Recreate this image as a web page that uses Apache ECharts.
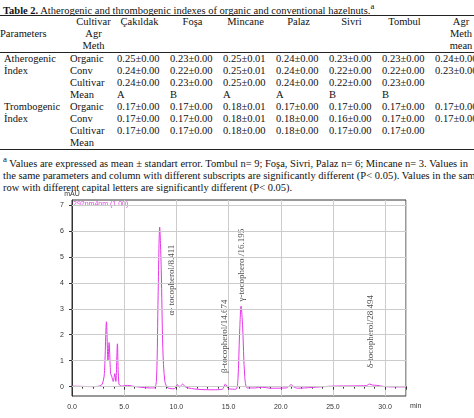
<!DOCTYPE html>
<html><head><meta charset="utf-8">
<script src="https://cdn.jsdelivr.net/npm/echarts@6/dist/echarts.min.js"></script>
<style>
body{margin:0;width:474px;height:418px;overflow:hidden;background:#fff;font-family:"Liberation Serif","DejaVu Serif",serif;color:#111}
#tbl{position:absolute;left:0;top:0;width:490px;font-size:10.5px;line-height:12px;font-family:"Liberation Serif",serif}
#tbl .ttl{position:absolute;left:3px;top:0;white-space:nowrap}
table{position:absolute;left:0;top:15px;border-collapse:collapse;border-top:1.5px solid #222;border-bottom:1.5px solid #222;table-layout:fixed;font-family:"Liberation Serif",serif;font-size:10.5px}
td{padding:0;white-space:nowrap;vertical-align:top;height:12px}
tr.h td{border-bottom:1px solid #222}
.c{text-align:center}
#foot{position:absolute;left:3px;top:153px;width:474px;font-size:10.5px;line-height:12px;white-space:nowrap;font-family:"Liberation Serif",serif}
#chart{position:absolute;left:0;top:186px;width:474px;height:232px}
</style></head><body>
<div id="tbl">
<div class="ttl"><b>Table 2.</b> Atherogenic and thrombogenic indexes of organic and conventional hazelnuts.<sup>a</sup></div>
<table id="t"></table>
</div>
<div id="foot"><sup>a</sup> Values are expressed as mean ± standart error. Tombul n= 9; Foşa, Sivri, Palaz n= 6; Mincane n= 3. Values in<br>the same parameters and column with different subscripts are significantly different (P&lt; 0.05). Values in the same<br>row with different capital letters are significantly different (P&lt; 0.05).</div>
<div id="chart"></div>
<script>
// table data
var cultivars = ['Çakıldak', 'Foşa', 'Mincane', 'Palaz', 'Sivri', 'Tombul'];
var atherogenic = [
    ['Organic', '0.25±0.00', '0.23±0.00', '0.25±0.01', '0.24±0.00', '0.23±0.00', '0.23±0.00', '0.24±0.00'],
    ['Conv', '0.24±0.00', '0.22±0.00', '0.25±0.01', '0.24±0.00', '0.22±0.00', '0.22±0.00', '0.23±0.00'],
    ['Cultivar', '0.24±0.00', '0.23±0.00', '0.25±0.00', '0.24±0.00', '0.22±0.00', '0.23±0.00', ''],
    ['Mean', 'A', 'B', 'A', 'A', 'B', 'B', '']
];
var trombogenic = [
    ['Organic', '0.17±0.00', '0.17±0.00', '0.18±0.01', '0.17±0.00', '0.17±0.00', '0.17±0.00', '0.17±0.00'],
    ['Conv', '0.17±0.00', '0.17±0.00', '0.18±0.01', '0.18±0.00', '0.16±0.00', '0.17±0.00', '0.17±0.00'],
    ['Cultivar', '0.17±0.00', '0.17±0.00', '0.18±0.00', '0.18±0.00', '0.17±0.00', '0.17±0.00', ''],
    ['Mean', '', '', '', '', '', '', '']
];

// chromatogram data [min, mAU]
var trace = [
    [0, 0.02], [1, 0.01], [2, 0.0], [2.6, 0.02], [2.9, 0.1], [3.1, 0.5], [3.3, 2.5], [3.45, 1.0],
    [3.55, 1.7], [3.7, 0.5], [3.8, 0.4], [3.95, 0.2], [4.1, 0.5], [4.2, 0.2], [4.35, 1.65],
    [4.5, 0.1], [4.8, 0.02], [5.3, 0.05], [5.8, 0.02], [6.5, -0.02], [7.5, -0.05], [7.9, -0.05],
    [8.1, 0.3], [8.25, 3.5], [8.4, 6.15], [8.55, 4.5], [8.7, 1.5], [8.9, 0.2], [9.2, -0.05],
    [9.8, -0.08], [10.1, 0.08], [10.3, -0.02], [10.6, 0.1], [10.9, -0.02], [12, -0.1],
    [13.5, -0.12], [14.4, -0.1], [14.7, 0.1], [15.0, -0.08], [15.7, -0.1], [15.9, 0.3],
    [16.05, 2.0], [16.2, 3.1], [16.35, 2.3], [16.55, 0.4], [16.8, -0.05], [17.5, -0.05],
    [18.2, -0.02], [19, -0.06], [20.5, -0.05], [20.8, 0.02], [21.0, 0.08], [21.2, 0.0],
    [21.6, -0.06], [23, -0.03], [25, 0.02], [27, 0.03], [28.2, 0.04], [28.5, 0.1],
    [28.8, 0.06], [29.2, 0.05], [30, 0.0], [31, -0.01], [32, -0.01]
];
var peakNames = ['α- tocopherol/8.411', 'β-tocopherol/14.674', 'γ-tocopherol/16.195', 'δ-tocopherol/28.494'];
var peakAnchors = [[9.55, 2.74], [14.66, 0.53], [16.3, 3.28], [28.65, 0.72]];
var yTicks = [0, 1, 2, 3, 4, 5, 6, 7];

var tb = document.getElementById('t');
var html = '<colgroup><col style="width:70px"><col style="width:47px">' +
    cultivars.map(function () { return '<col style="width:53px">'; }).join('') +
    '<col style="width:52px"></colgroup>';
html += '<tr><td>&nbsp;</td><td class="c">Cultivar</td>' + cultivars.map(function (c) { return '<td class="c" style="padding-right:8px">' + c + '</td>'; }).join('') + '<td class="c">Agr</td></tr>';
html += '<tr><td>Parameters</td><td class="c">Agr</td>' + cultivars.map(function () { return '<td></td>'; }).join('') + '<td class="c">Meth</td></tr>';
html += '<tr class="h"><td></td><td class="c">Meth</td>' + cultivars.map(function () { return '<td></td>'; }).join('') + '<td class="c">mean</td></tr>';
function rows(label1, label2, arr) {
    arr.forEach(function (r, i) {
        var lab = i === 0 ? label1 : (i === 1 ? label2 : '');
        html += '<tr><td style="padding-left:4px">' + lab + '</td><td>' + r[0] + '</td>' +
            r.slice(1).map(function (v) { return '<td>' + v + '</td>'; }).join('') + '</tr>';
    });
}
rows('Atherogenic', 'İndex', atherogenic);
rows('Trombogenic', 'İndex', trombogenic);
tb.innerHTML = html;

var myChart = echarts.init(document.getElementById('chart'));
var option = {
    animation: false,
    grid: { left: 72, right: 68, top: 14, bottom: 22, show: true, borderColor: '#333', borderWidth: 1 },
    xAxis: {
        type: 'value', min: 0, max: 32, interval: 5,
        axisLine: { lineStyle: { color: '#333' } },
        axisTick: { show: true, length: 3, lineStyle: { color: '#333' } },
        minorTick: { show: true, splitNumber: 5, length: 2 },
        splitLine: { lineStyle: { color: '#ccc' } },
        axisLabel: { fontSize: 7, color: '#333', formatter: function (v) { return v % 5 === 0 ? v.toFixed(1) : ''; } }
    },
    yAxis: {
        type: 'value', min: -0.36, max: 7.19,
        name: 'mAU', nameGap: 2, nameLocation: 'end',
        nameTextStyle: { fontSize: 7, color: '#333', align: 'center' },
        axisLine: { show: true, lineStyle: { color: '#333' } },
        axisTick: { show: true, length: 3, customValues: yTicks },
        splitLine: { show: false },
        axisLabel: { fontSize: 7, color: '#333', customValues: yTicks }
    },
    graphic: [
        { type: 'text', left: 73, top: 15, style: { text: '292nm4nm (1.00)', fill: '#e040e0', font: '7px sans-serif' } },
        { type: 'text', left: 410, bottom: 8, style: { text: 'min', fill: '#333', font: '7px sans-serif' } }
    ],
    series: [{
        type: 'line', data: trace, showSymbol: false, smooth: 0.3, z: 3,
        lineStyle: { color: '#e535e8', width: 1 },
        markLine: {
            silent: true, symbol: 'none', label: { show: false },
            lineStyle: { color: '#ccc', type: 'solid', width: 1 },
            data: yTicks.map(function (v) { return { yAxis: v }; })
        }
    }, {
        type: 'scatter', data: peakAnchors, symbolSize: 0,
        label: {
            show: true, position: 'inside', rotate: 90, align: 'left', verticalAlign: 'middle',
            fontFamily: 'Liberation Serif', fontSize: 9, color: '#222',
            formatter: function (p) { return peakNames[p.dataIndex]; }
        }
    }]
};
myChart.setOption(option);
</script>
</body></html>
